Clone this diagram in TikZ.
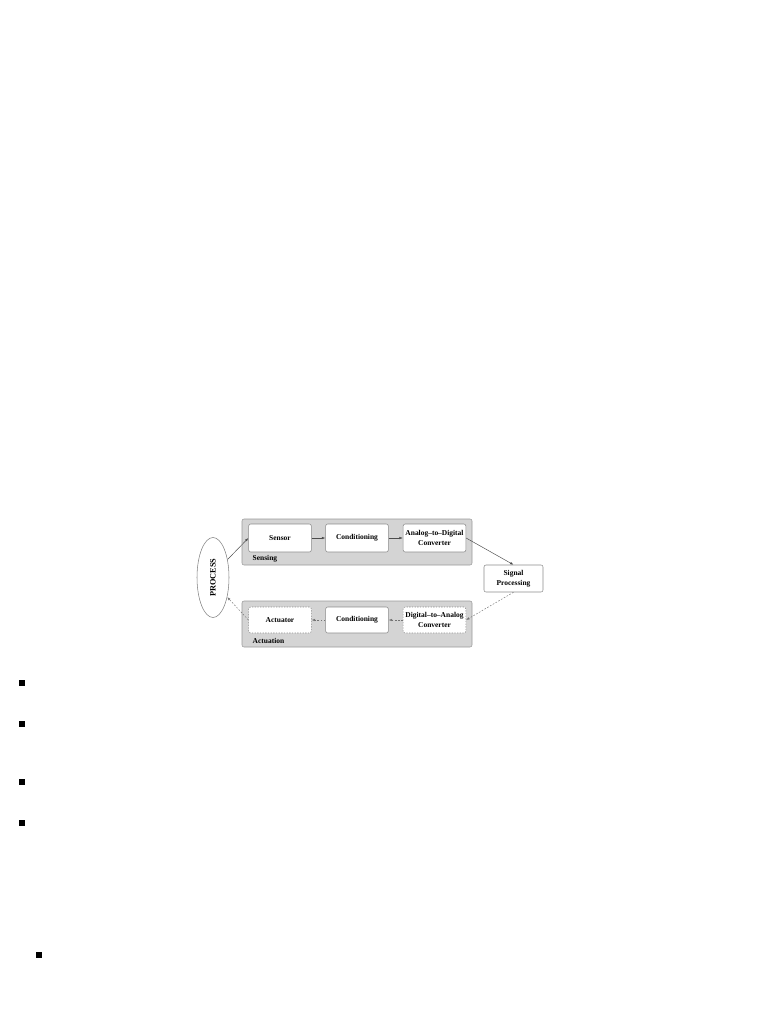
\documentclass[tikz,border=0pt]{standalone}
\usepackage{fontspec}
\setmainfont{Liberation Serif}
\usetikzlibrary{arrows.meta,shapes.geometric}
\begin{document}
\begin{tikzpicture}[x=0.75pt,y=-0.75pt,
  lbl/.style={font=\fontsize{5.6}{7.6}\selectfont\bfseries},
  blk/.style={lbl,draw=black!45,fill=white,rounded corners=1.5pt,line width=0.4pt,
    minimum width=47pt,minimum height=21pt,inner sep=1pt,align=center},
  dblk/.style={blk,dashed,dash pattern=on 1pt off 1pt,minimum height=19.5pt},
  grp/.style={draw=black!40,fill=black!17,rounded corners=1.5pt,line width=0.4pt},
  arr/.style={draw=black!70,line width=0.35pt,-{Latex[length=2.6pt,width=1.8pt]}},
  darr/.style={arr,draw=black!55,dash pattern=on 1.2pt off 1.2pt},
  bullet/.style={fill=black,draw=none,minimum size=5.2pt,inner sep=0pt}]
\useasboundingbox[fill=white] (0,0) rectangle (768,1024);
% groups
\path[grp] (242,519) rectangle (472,565);
\path[grp] (242,601) rectangle (472,647);
\node[lbl,anchor=west] (sensing) at (248,559) {Sensing};
\node[lbl,anchor=west] (actuation) at (248,640.5) {Actuation};
% blocks
\node[blk] (sensor) at (280,538) {Sensor};
\node[blk] (cond1) at (357,538) {Conditioning};
\node[blk] (adc) at (434.5,538) {Analog--to--Digital\\Converter};
\node[blk,minimum width=44.25pt,minimum height=20.25pt] (sig) at (513.5,578.5) {Signal\\Processing};
\node[dblk] (act) at (280,620) {Actuator};
\node[blk,minimum height=19.5pt] (cond2) at (357,620) {Conditioning};
\node[dblk] (dac) at (434.5,620) {Digital--to--Analog\\Converter};
\node[draw=black!50,line width=0.4pt,ellipse,minimum width=24pt,minimum height=60pt,inner sep=0pt,fill=white] (proc) at (213,577.5) {};
\node[lbl,rotate=90,font=\fontsize{6.2}{7}\selectfont\bfseries] (proctext) at (proc.center) {PROCESS};
% connectors
\draw[arr] (proc.51) -- (sensor.west);
\draw[arr] (sensor) -- (cond1);
\draw[arr] (cond1) -- (adc);
\draw[arr] (adc.east) -- (sig.north);
\draw[darr] (sig.south) -- (dac.east);
\draw[darr] (dac) -- (cond2);
\draw[darr] (cond2) -- (act);
\draw[darr] (act.west) -- (proc.-54);
% bullets
\node[bullet] (b1) at (22,683) {};
\node[bullet] (b2) at (22,724) {};
\node[bullet] (b3) at (22,782) {};
\node[bullet] (b4) at (22,823) {};
\node[bullet] (b5) at (39,955) {};
\end{tikzpicture}
\end{document}
